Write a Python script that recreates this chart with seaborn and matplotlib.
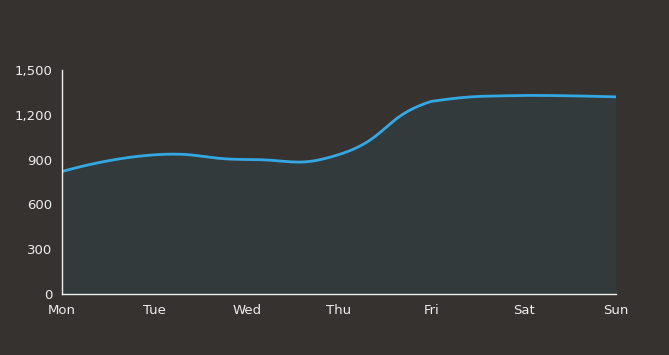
import numpy as np
import pandas as pd
import matplotlib
matplotlib.use("Agg")
import matplotlib.pyplot as plt
import seaborn as sns
from matplotlib.ticker import FuncFormatter

# ── data ─────────────────────────────────────────────
days = ["Mon", "Tue", "Wed", "Thu", "Fri", "Sat", "Sun"]
values = [820, 932, 901, 934, 1290, 1330, 1320]

BG = "#35322f"
FILL = "#333a3c"
LINE = "#33a8e2"
FG = "#eeeeee"

# ── smooth curve (bezier, control points kept inside data bounds) ──
def smooth_curve(xs, ys, sx, sy, smooth=0.5, n=60):
    px = np.asarray(xs, float) * sx
    py = np.asarray(ys, float) * sy
    m = len(px)
    lo = np.array([px.min(), py.min()])
    hi = np.array([px.max(), py.max()])
    pts = np.column_stack([px, py])
    c_in = [None] * m
    c_out = [None] * m
    for i in range(m):
        if i == 0 or i == m - 1:
            c_in[i] = pts[i].copy()
            c_out[i] = pts[i].copy()
            continue
        v = (pts[i + 1] - pts[i - 1]) * smooth
        d0 = np.linalg.norm(pts[i] - pts[i - 1])
        d1 = np.linalg.norm(pts[i + 1] - pts[i])
        s = d0 + d1
        d0, d1 = d0 / s, d1 / s
        c_in[i] = np.clip(pts[i] - v * d0, lo, hi)
        c_out[i] = np.clip(pts[i] + v * d1, lo, hi)
    outx, outy = [], []
    t = np.linspace(0, 1, n)[:, None]
    for i in range(m - 1):
        b = (1 - t) ** 3 * pts[i] + 3 * (1 - t) ** 2 * t * c_out[i] \
            + 3 * (1 - t) * t ** 2 * c_in[i + 1] + t ** 3 * pts[i + 1]
        outx.extend(b[:, 0] / sx)
        outy.extend(b[:, 1] / sy)
    return np.array(outx), np.array(outy)

xi = np.arange(len(days))
cx, cy = smooth_curve(xi, values, 92.33, 224 / 1500)
curve = pd.DataFrame({"x": cx, "y": cy})

# ── plot ─────────────────────────────────────────────
sns.set_style("dark")
plt.rcParams["font.family"] = ["DejaVu Sans"]

fig = plt.figure(figsize=(6.69, 3.55), dpi=100, facecolor=BG)
ax = fig.add_axes([62 / 669, 61 / 355, 554 / 669, 224 / 355])
ax.set_facecolor(BG)

ax.fill_between(curve["x"], curve["y"], 0, color=FILL, lw=0)
sns.lineplot(data=curve, x="x", y="y", ax=ax, color=LINE, lw=2, sort=False)

ax.set_xlim(0, len(days) - 1)
ax.set_ylim(0, 1500)
ax.set_xticks(xi)
ax.set_xticklabels(days)
ax.set_yticks([0, 300, 600, 900, 1200, 1500])
ax.yaxis.set_major_formatter(FuncFormatter(lambda v, p: f"{int(v):,}"))
ax.set_xlabel("")
ax.set_ylabel("")
ax.grid(False)

for s in ["top", "right"]:
    ax.spines[s].set_visible(False)
for s in ["left", "bottom"]:
    ax.spines[s].set_color(FG)
    ax.spines[s].set_linewidth(1)
ax.tick_params(axis="both", colors=FG, labelcolor=FG, labelsize=9.5,
               length=5, width=1, direction="out", pad=2)

fig.savefig("out.png", dpi=100, facecolor=BG)
